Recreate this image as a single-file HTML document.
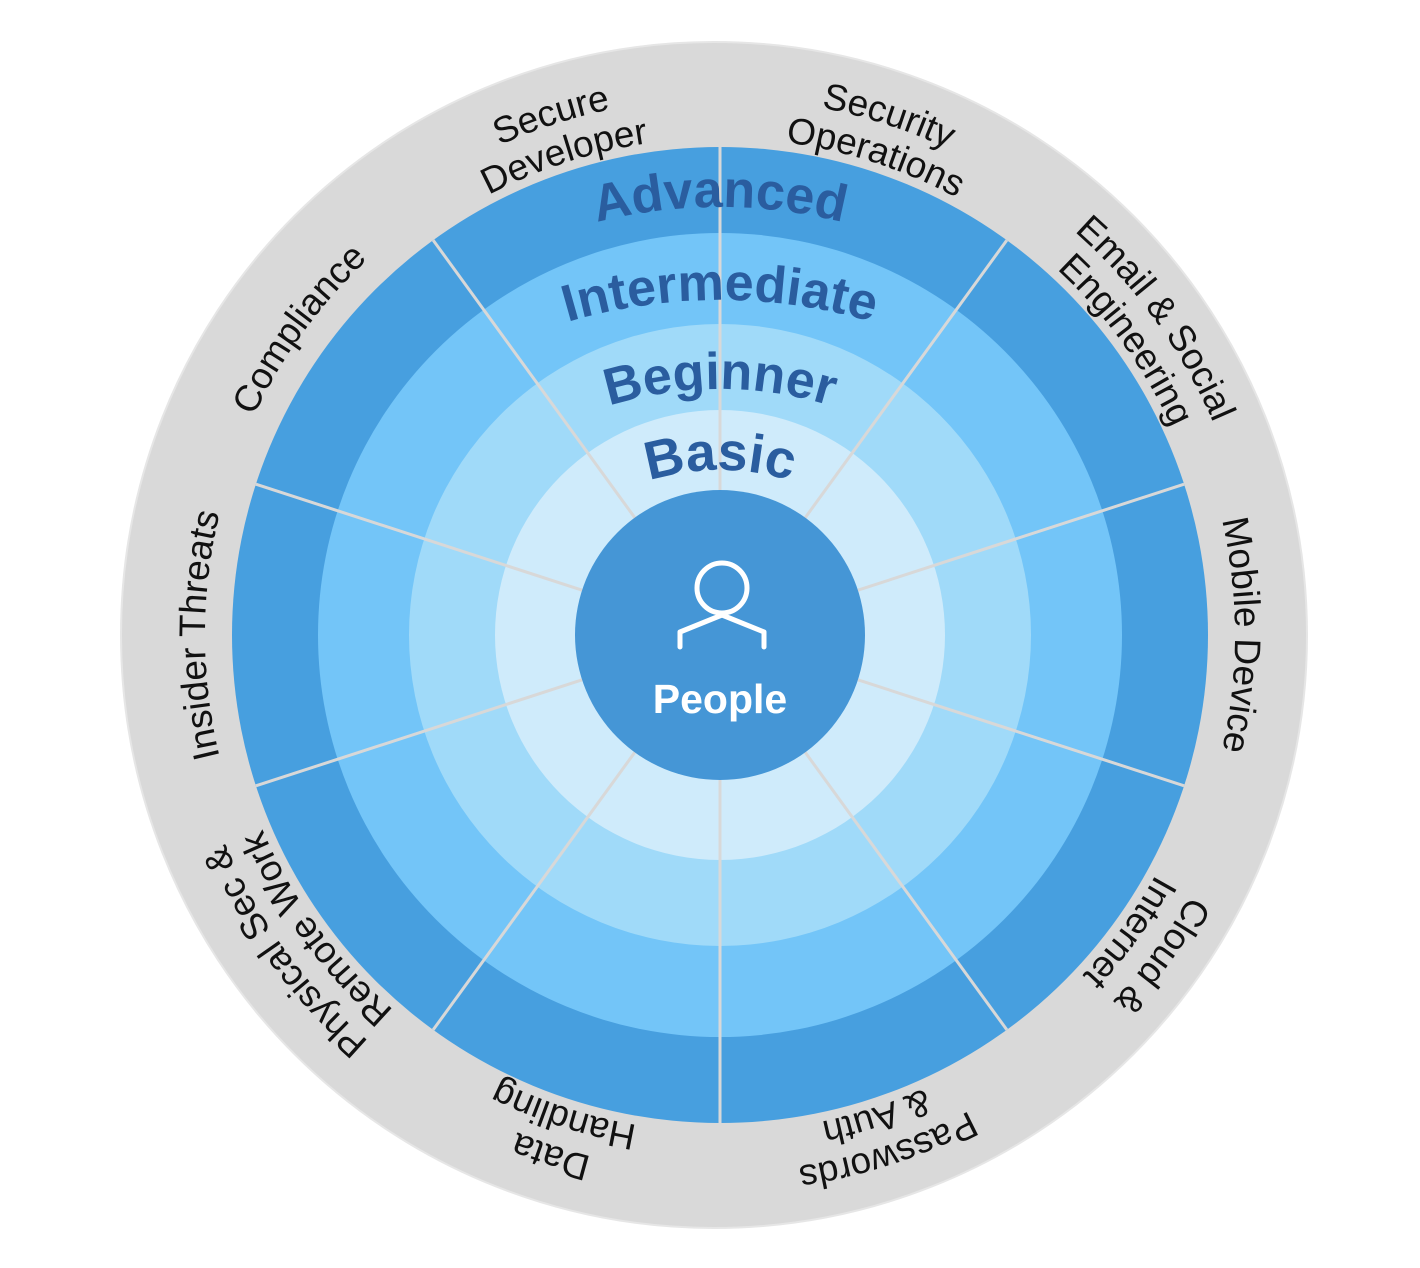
<!DOCTYPE html>
<html><head><meta charset="utf-8"><style>
html,body{margin:0;padding:0;background:#fff;}
svg{display:block;}
.o{font-family:"Liberation Sans",Arial,sans-serif;font-size:37px;fill:#111;}
.l{font-family:"Liberation Sans",Arial,sans-serif;font-weight:bold;font-size:52px;fill:#2a5d9f;}
</style></head><body>
<svg width="1420" height="1268" viewBox="0 0 1420 1268" xmlns="http://www.w3.org/2000/svg">
<defs>
<path id="r535" d="M720,1172 A537,537 0 1 1 720,98 A537,537 0 1 1 720,1172"/>
<path id="r497" d="M720,1132 A497,497 0 1 1 720,138 A497,497 0 1 1 720,1132"/>
<path id="r515" d="M720,1150 A515,515 0 1 1 720,120 A515,515 0 1 1 720,1150"/>
<path id="la" d="M720,1215 A504,504 0 1 1 720,207 A504,504 0 1 1 720,1215"/>
<path id="li" d="M720,1380 A540,540 0 1 1 720,300 A540,540 0 1 1 720,1380"/>
<path id="lb" d="M720,1133 A372,372 0 1 1 720,389 A372,372 0 1 1 720,1133"/>
<path id="lc" d="M720,950 A240,240 0 1 1 720,470 A240,240 0 1 1 720,950"/>
</defs>
<circle cx="714" cy="635" r="593" fill="#d9d9d9" stroke="#e6e6e6" stroke-width="2"/>
<circle cx="720" cy="635" r="488" fill="#479fdf"/>
<circle cx="720" cy="635" r="402" fill="#73c5f8"/>
<circle cx="720" cy="635" r="311" fill="#a0daf9"/>
<circle cx="720" cy="635" r="225" fill="#cfebfb"/>
<g stroke="#d8d8d8" stroke-width="3">
<line x1="720" y1="490" x2="720" y2="147"/>
<line x1="805.2" y1="517.7" x2="1006.8" y2="240.2"/>
<line x1="857.9" y1="590.2" x2="1184.1" y2="484.2"/>
<line x1="857.9" y1="679.8" x2="1184.1" y2="785.8"/>
<line x1="805.2" y1="752.3" x2="1006.8" y2="1029.8"/>
<line x1="720" y1="780" x2="720" y2="1123"/>
<line x1="634.8" y1="752.3" x2="433.2" y2="1029.8"/>
<line x1="582.1" y1="679.8" x2="255.9" y2="785.8"/>
<line x1="582.1" y1="590.2" x2="255.9" y2="484.2"/>
<line x1="634.8" y1="517.7" x2="433.2" y2="240.2"/>
</g>
<circle cx="720" cy="635" r="145" fill="#4596d6"/>
<g fill="none" stroke="#fff" stroke-width="5" stroke-linecap="round" stroke-linejoin="round">
<circle cx="722" cy="588" r="25"/>
<polyline points="680,647 680,632 722,615 764,632 764,647"/>
</g>
<text x="720" y="713" text-anchor="middle" font-family="Liberation Sans,Arial,sans-serif" font-weight="bold" font-size="41" fill="#fff">People</text>

<text class="l" text-anchor="middle"><textPath href="#la" startOffset="50%">Advanced</textPath></text>
<text class="l" text-anchor="middle"><textPath href="#li" startOffset="50%">Intermediate</textPath></text>
<text class="l" text-anchor="middle"><textPath href="#lb" startOffset="50%">Beginner</textPath></text>
<text class="l" text-anchor="middle" style="font-size:54px"><textPath href="#lc" startOffset="50%">Basic</textPath></text>

<g class="o" text-anchor="middle">
<text class="o"><textPath href="#r535" startOffset="45%">Secure</textPath></text>
<text class="o"><textPath href="#r497" startOffset="45%">Developer</textPath></text>
<text class="o"><textPath href="#r535" startOffset="55%">Security</textPath></text>
<text class="o"><textPath href="#r497" startOffset="55%">Operations</textPath></text>
<text class="o"><textPath href="#r535" startOffset="65%">Email &amp; Social</textPath></text>
<text class="o"><textPath href="#r497" startOffset="65%">Engineering</textPath></text>
<text class="o"><textPath href="#r515" startOffset="75%">Mobile Device</textPath></text>
<text class="o"><textPath href="#r535" startOffset="85%">Cloud &amp;</textPath></text>
<text class="o"><textPath href="#r497" startOffset="85%">Internet</textPath></text>
<text class="o"><textPath href="#r535" startOffset="95%">Passwords</textPath></text>
<text class="o"><textPath href="#r497" startOffset="95%">&amp; Auth</textPath></text>
<text class="o"><textPath href="#r535" startOffset="5%">Data</textPath></text>
<text class="o"><textPath href="#r497" startOffset="5%">Handling</textPath></text>
<text class="o"><textPath href="#r535" startOffset="15%">Physical Sec &amp;</textPath></text>
<text class="o"><textPath href="#r497" startOffset="15%">Remote Work</textPath></text>
<text class="o"><textPath href="#r515" startOffset="25%">Insider Threats</textPath></text>
<text class="o"><textPath href="#r515" startOffset="35%">Compliance</textPath></text>
</g>
</svg>
</body></html>
